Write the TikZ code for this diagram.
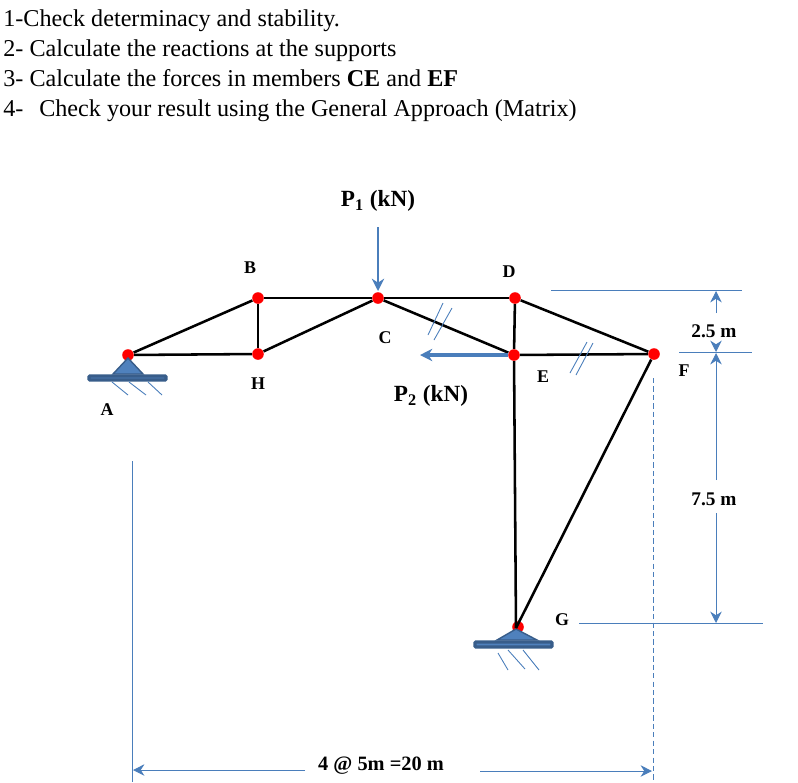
\documentclass[tikz,border=0pt]{standalone}
\usepackage{fontspec}
\setmainfont{Liberation Serif}
\definecolor{dimblue}{HTML}{4A7EBB}
\definecolor{supblue}{HTML}{4F81BD}
\definecolor{barblue}{HTML}{385D8A}
\usetikzlibrary{arrows.meta}
\tikzset{
  joint/.style={circle,fill=red,inner sep=0pt,minimum size=6.6pt},
  member/.style={draw=black,line width=1.45pt},
  dimline/.style={draw=dimblue,line width=0.55pt},
  dimarrow/.style={dimline,-{Stealth[length=6.5pt,width=6.5pt]}},
  tick/.style={draw=dimblue,line width=0.5pt},
  load/.style={draw=dimblue,line width=1.4pt,-{Stealth[length=7pt,width=7pt]}},
  support/.style={draw=barblue,fill=supblue,line width=0.8pt},
  bar/.style={draw=barblue,fill=supblue,line width=1.8pt,rounded corners=0.5pt},
  letter/.style={font=\bfseries\fontsize{10.2}{11}\selectfont,inner sep=0pt},
  dimtext/.style={font=\bfseries\fontsize{11}{12}\selectfont,inner sep=0pt},
  loadtext/.style={font=\bfseries\fontsize{13.2}{15}\selectfont,inner sep=0pt},
  task/.style={anchor=base west,font=\fontsize{13.75}{16}\selectfont,inner sep=0pt}
}
\begin{document}
\begin{tikzpicture}[x=0.02cm,y=-0.02cm]
\useasboundingbox (0,0) rectangle (798,782);
% questions
\node[task] (q1) at (3,26) {1-Check determinacy and stability.};
\node[task] (q2) at (3,56) {2- Calculate the reactions at the supports};
\node[task] (q3) at (3,86) {3- Calculate the forces in members \textbf{CE} and \textbf{EF}};
\node[task] (q4) at (3,116) {4-\hspace{9pt}Check your result using the General Approach (Matrix)};
% joints
\node[joint] (A) at (128,355) {};
\node[joint] (B) at (258,298) {};
\node[joint] (C) at (378,298) {};
\node[joint] (D) at (515,298) {};
\node[joint] (E) at (514,355) {};
\node[joint] (F) at (654,354) {};
\node[joint] (G) at (518,627) {};
\node[joint] (H) at (258,354) {};
% supports
\draw[bar] (89,376) rectangle (166,380);
\draw[support] (128,358)--(113,374)--(143,374)--cycle;
\draw[tick] (112,382)--(128,395);
\draw[tick] (129,382)--(146,395);
\draw[tick] (148,382)--(162,395);
\draw[bar] (475,642) rectangle (552,647);
\draw[support] (516,629)--(497,640)--(537,640)--cycle;
\draw[tick] (498,653)--(508,670);
\draw[tick] (508,650)--(525,669);
\draw[tick] (523,650)--(539,670);
% members
\coordinate (Gtop) at (516,628);
\draw[member] (A)--(B);
\draw[member] (B)--(C);
\draw[member] (C)--(D);
\draw[member] (D)--(F);
\draw[member] (F)--(E);
\draw[member] (A)--(H);
\draw[member] (H)--(B);
\draw[member] (H)--(C);
\draw[member] (C)--(E);
\draw[member] (D)--(E);
\draw[member] (E)--(Gtop);
\draw[member] (F)--(Gtop);
% cut marks
\draw[tick] (428,335)--(443,303);
\draw[tick] (434,340)--(452,308);
\draw[tick] (570,373)--(587,342);
\draw[tick] (576,375)--(593,343);
% loads
\node[loadtext] (P1) at (378,201) {P\textsubscript{1} (kN)};
\node[loadtext] (P2) at (431,396) {P\textsubscript{2} (kN)};
\coordinate (P1top) at (378,227);
\coordinate (P1end) at (378,291);
\coordinate (P2end) at (420,355);
\draw[load] (P1top)--(P1end);
\draw[load,line width=1.8pt] (E)--(P2end);
% letters
\node[letter] (lA) at (107,410) {A};
\node[letter] (lB) at (250,268) {B};
\node[letter] (lC) at (385,338) {C};
\node[letter] (lD) at (509,272) {D};
\node[letter] (lE) at (543,377) {E};
\node[letter] (lF) at (684,371) {F};
\node[letter] (lG) at (562,620) {G};
\node[letter] (lH) at (258,384) {H};
% dimensions
\draw[dimline] (551,290)--(742,290);
\draw[dimline] (679,352)--(752,352);
\draw[dimline] (579,623)--(763,623);
\draw[dimline] (132,461)--(132,782);
\draw[dimline,dash pattern=on 3pt off 1.8pt] (653,378)--(653,782);
\node[dimtext] (d25) at (714,331) {2.5 m};
\node[dimtext] (d75) at (714,499) {7.5 m};
\node[font=\bfseries\fontsize{11.6}{13}\selectfont,inner sep=0pt] (d20) at (381,766) {4 @ 5m =20 m};
\draw[dimarrow] (716,313)--(716,291);
\draw[dimarrow] (716,345)--(716,352);
\draw[dimarrow] (716,480)--(716,353);
\draw[dimarrow] (716,513)--(716,623);
\draw[dimarrow] (305,770)--(133,770);
\draw[dimarrow] (480,771)--(652,771);
\end{tikzpicture}
\end{document}
